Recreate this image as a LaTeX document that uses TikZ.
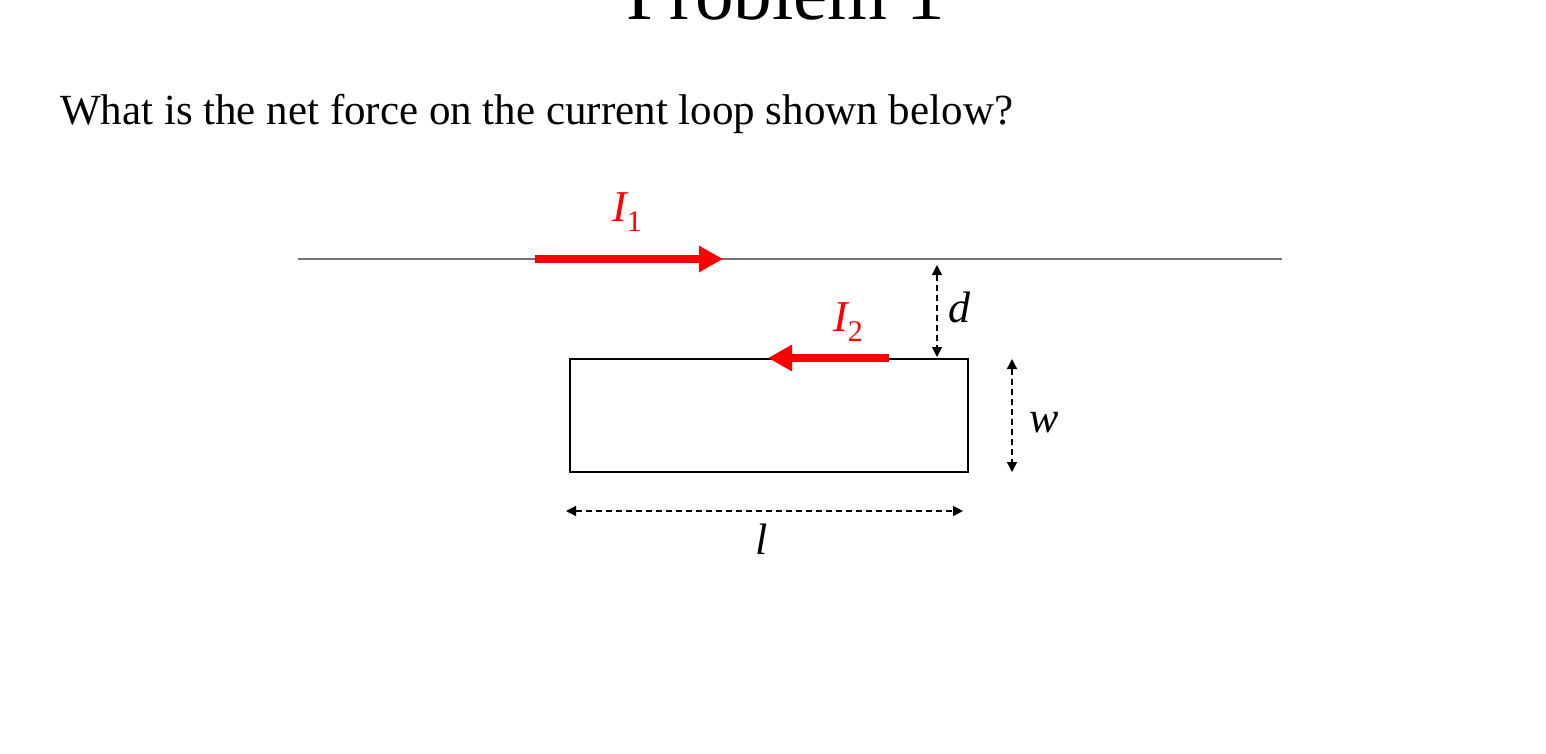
\documentclass[tikz,border=0pt]{standalone}
\usepackage{fontspec}
\setmainfont{Liberation Serif}
\usetikzlibrary{arrows.meta}
\begin{document}
\begin{tikzpicture}[x=1pt,y=-1pt,
  lbl/.style={inner sep=0pt,anchor=base west,font=\fontsize{44}{50}\selectfont\itshape},
  redlbl/.style={lbl,text=red},
  current/.style={draw=red,line width=7.5pt,-{Triangle[length=24pt,width=25pt]}},
  dim/.style={line width=1.4pt,dash pattern=on 6pt off 4pt,{Triangle[length=10pt,width=10pt]}-{Triangle[length=10pt,width=10pt]}}]
\useasboundingbox (0,0) rectangle (1546,754);
% title and question
\node[inner sep=0pt,anchor=base,font=\fontsize{77}{80}\selectfont] (title) at (786,20) {Problem 1};
\node[inner sep=0pt,anchor=base west,font=\fontsize{43}{48}\selectfont] (question) at (60,125) {What is the net force on the current loop shown below?};
% wire
\coordinate (wA) at (298,259);
\coordinate (wB) at (1282,259);
\draw[line width=1.4pt,draw=black!55] (wA) -- (wB);
\coordinate (i1s) at (535,259);
\coordinate (i1e) at (723,259);
\draw[current] (i1s) -- (i1e);
\node[redlbl] (I1) at (612,221) {I\raisebox{-10pt}{\upshape\fontsize{30}{32}\selectfont 1}};
% loop
\node[draw,line width=1.5pt,minimum width=398pt,minimum height=113pt,inner sep=0pt,anchor=north west] (loop) at (569,358) {};
\coordinate (i2s) at (889,358);
\coordinate (i2e) at (768,358);
\draw[current] (i2s) -- (i2e);
\node[redlbl] (I2) at (833,331) {I\raisebox{-10pt}{\upshape\fontsize{30}{32}\selectfont 2}};
% dimensions
\coordinate (dT) at (937,265);
\coordinate (dB) at (937,357);
\draw[dim] (dT) -- (dB);
\node[lbl] (dlbl) at (948,322) {d};
\coordinate (wT) at (1012,359);
\coordinate (wBot) at (1012,472);
\draw[dim] (wT) -- (wBot);
\node[lbl] (wlbl) at (1029,432) {w};
\coordinate (lL) at (566,511);
\coordinate (lR) at (963,511);
\draw[dim] (lL) -- (lR);
\node[lbl] (llbl) at (755,554) {l};
\end{tikzpicture}
\end{document}
